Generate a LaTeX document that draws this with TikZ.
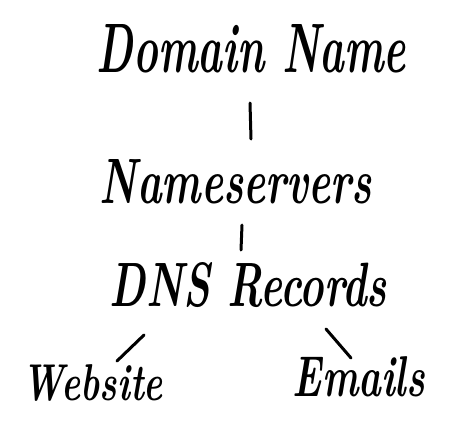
\documentclass[tikz,border=0pt]{standalone}
\usepackage{graphicx}
\tikzset{
  hand/.style={inner sep=0pt, font=\bfseries\itshape},
  conn/.style={line width=3pt, line cap=round, black}
}
\newcommand{\hw}[3]{\resizebox{#1pt}{#2pt}{#3}}
\begin{document}
\begin{tikzpicture}[x=1pt,y=-1pt]
\path[fill=white] (0,0) rectangle (474,426);
\useasboundingbox (0,0) rectangle (474,426);
\node[hand] (dn)  at (251.5,49) {\hw{309}{48}{Domain Name}};
\node[hand] (ns)  at (236,182)  {\hw{272}{44}{Nameservers}};
\node[hand] (dns) at (248.5,285){\hw{277}{44}{DNS Records}};
\node[hand] (web) at (93,383)   {\hw{140}{36}{Website}};
\node[hand] (em)  at (359,377)  {\hw{132}{40}{Emails}};
\coordinate (c1a) at (250,103);
\coordinate (c1b) at (251,139);
\coordinate (c2a) at (242,225);
\coordinate (c2b) at (241,250);
\coordinate (c3a) at (144,335);
\coordinate (c3b) at (117,361);
\coordinate (c4a) at (326,329);
\coordinate (c4b) at (351,358);
\draw[conn] (c1a) -- (c1b);
\draw[conn] (c2a) -- (c2b);
\draw[conn] (c3a) -- (c3b);
\draw[conn] (c4a) -- (c4b);
\end{tikzpicture}
\end{document}
